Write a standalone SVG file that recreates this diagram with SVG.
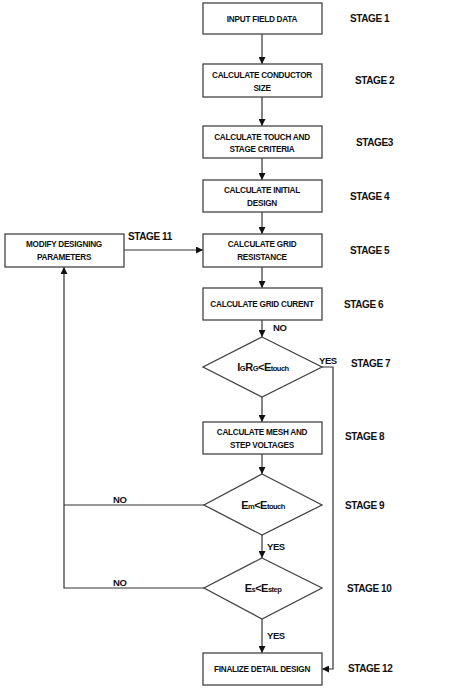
<svg xmlns="http://www.w3.org/2000/svg" width="456" height="692" viewBox="0 0 456 692">
<style>
.box{fill:#fff;stroke:#444;stroke-width:1.3}
.bt{font-family:"Liberation Sans",Arial,sans-serif;font-weight:bold;font-size:8.2px;fill:#111;text-anchor:middle;letter-spacing:-0.25px}
.st{font-family:"Liberation Sans",Arial,sans-serif;font-weight:bold;font-size:10px;fill:#111;letter-spacing:-0.4px}
.lb{font-family:"Liberation Sans",Arial,sans-serif;font-weight:bold;font-size:9.5px;fill:#111;letter-spacing:-0.4px}
.dt{font-family:"Liberation Sans",Arial,sans-serif;font-weight:bold;font-size:11px;fill:#111;text-anchor:middle;letter-spacing:-0.5px}
.sub{font-size:7.5px}
.ln{fill:none;stroke:#333;stroke-width:1.2}
</style>
<defs>
<marker id="ah" viewBox="0 0 10 10" refX="10" refY="5" markerWidth="7" markerHeight="7" markerUnits="userSpaceOnUse" orient="auto">
<path d="M0,0 L10,5 L0,10 z" fill="#111"/>
</marker>
</defs>
<rect width="456" height="692" fill="#fff"/>
<g id="connectors">
<line class="ln" x1="262" y1="34" x2="262" y2="64" marker-end="url(#ah)"/>
<line class="ln" x1="262" y1="97" x2="262" y2="126" marker-end="url(#ah)"/>
<line class="ln" x1="262" y1="158" x2="262" y2="180" marker-end="url(#ah)"/>
<line class="ln" x1="262" y1="212" x2="262" y2="234" marker-end="url(#ah)"/>
<line class="ln" x1="124" y1="250" x2="203" y2="250" marker-end="url(#ah)"/>
<line class="ln" x1="262" y1="267" x2="262" y2="288" marker-end="url(#ah)"/>
<line class="ln" x1="262" y1="320" x2="262" y2="337" marker-end="url(#ah)"/>
<line class="ln" x1="262" y1="397" x2="262" y2="422" marker-end="url(#ah)"/>
<line class="ln" x1="262" y1="454" x2="262" y2="474" marker-end="url(#ah)"/>
<line class="ln" x1="262" y1="535" x2="262" y2="558" marker-end="url(#ah)"/>
<line class="ln" x1="262" y1="619" x2="262" y2="653" marker-end="url(#ah)"/>
<polyline class="ln" points="322,367 333,367 333,669 322,669" marker-end="url(#ah)"/>
<line class="ln" x1="204" y1="505" x2="64" y2="505"/>
<polyline class="ln" points="204,588 64,588 64,267" marker-end="url(#ah)"/>
<text class="lb" x="273" y="331">NO</text>
<text class="lb" x="319" y="364">YES</text>
<text class="lb" x="267" y="550">YES</text>
<text class="lb" x="267" y="639">YES</text>
<text class="lb" x="113" y="503">NO</text>
<text class="lb" x="113" y="586">NO</text>
</g>
<g id="n1"><rect class="box" x="203" y="3" width="119" height="31"/><text class="bt" x="262" y="21.5">INPUT FIELD DATA</text></g>
<g id="n2"><rect class="box" x="203" y="64" width="119" height="33"/><text class="bt" x="262" y="78">CALCULATE CONDUCTOR</text><text class="bt" x="262" y="90.5">SIZE</text></g>
<g id="n3"><rect class="box" x="203" y="126" width="119" height="32"/><text class="bt" x="262" y="139.5">CALCULATE TOUCH  AND</text><text class="bt" x="262" y="152">STAGE CRITERIA</text></g>
<g id="n4"><rect class="box" x="203" y="180" width="119" height="32"/><text class="bt" x="262" y="192.5">CALCULATE INITIAL</text><text class="bt" x="262" y="205.5">DESIGN</text></g>
<g id="n5"><rect class="box" x="203" y="234" width="119" height="33"/><text class="bt" x="262" y="246.5">CALCULATE GRID</text><text class="bt" x="262" y="259.5">RESISTANCE</text></g>
<g id="n6"><rect class="box" x="203" y="288" width="119" height="32"/><text class="bt" x="262" y="306.5">CALCULATE GRID CURENT</text></g>
<g id="n11"><rect class="box" x="5" y="234" width="119" height="33"/><text class="bt" x="64" y="246.5">MODIFY DESIGNING</text><text class="bt" x="64" y="259.5">PARAMETERS</text></g>
<g id="n7"><polygon class="box" points="262,337 322,367 262,397 203,367"/><text class="dt" x="263" y="371">I<tspan class="sub">G</tspan>R<tspan class="sub">G</tspan>&lt;E<tspan class="sub">touch</tspan></text></g>
<g id="n8"><rect class="box" x="203" y="422" width="119" height="32"/><text class="bt" x="262" y="434.5">CALCULATE MESH  AND</text><text class="bt" x="262" y="447.5">STEP VOLTAGES</text></g>
<g id="n9"><polygon class="box" points="262,474 322,505 262,535 204,505"/><text class="dt" x="263" y="509">E<tspan class="sub">m</tspan>&lt;E<tspan class="sub">touch</tspan></text></g>
<g id="n10"><polygon class="box" points="262,558 322,588 262,619 204,588"/><text class="dt" x="263" y="592">E<tspan class="sub">s</tspan>&lt;E<tspan class="sub">step</tspan></text></g>
<g id="n12"><rect class="box" x="203" y="653" width="119" height="32"/><text class="bt" x="262" y="671.5">FINALIZE DETAIL DESIGN</text></g>
<g id="stages">
<text class="st" x="350" y="22">STAGE 1</text>
<text class="st" x="355" y="84">STAGE 2</text>
<text class="st" x="356" y="146">STAGE3</text>
<text class="st" x="350" y="200">STAGE 4</text>
<text class="st" x="350" y="254">STAGE 5</text>
<text class="st" x="344" y="308">STAGE 6</text>
<text class="st" x="351" y="367">STAGE 7</text>
<text class="st" x="345" y="440">STAGE 8</text>
<text class="st" x="345" y="509">STAGE 9</text>
<text class="st" x="347" y="592">STAGE 10</text>
<text class="st" x="348" y="672">STAGE 12</text>
<text class="st" x="128" y="240">STAGE 11</text>
</g>
</svg>
